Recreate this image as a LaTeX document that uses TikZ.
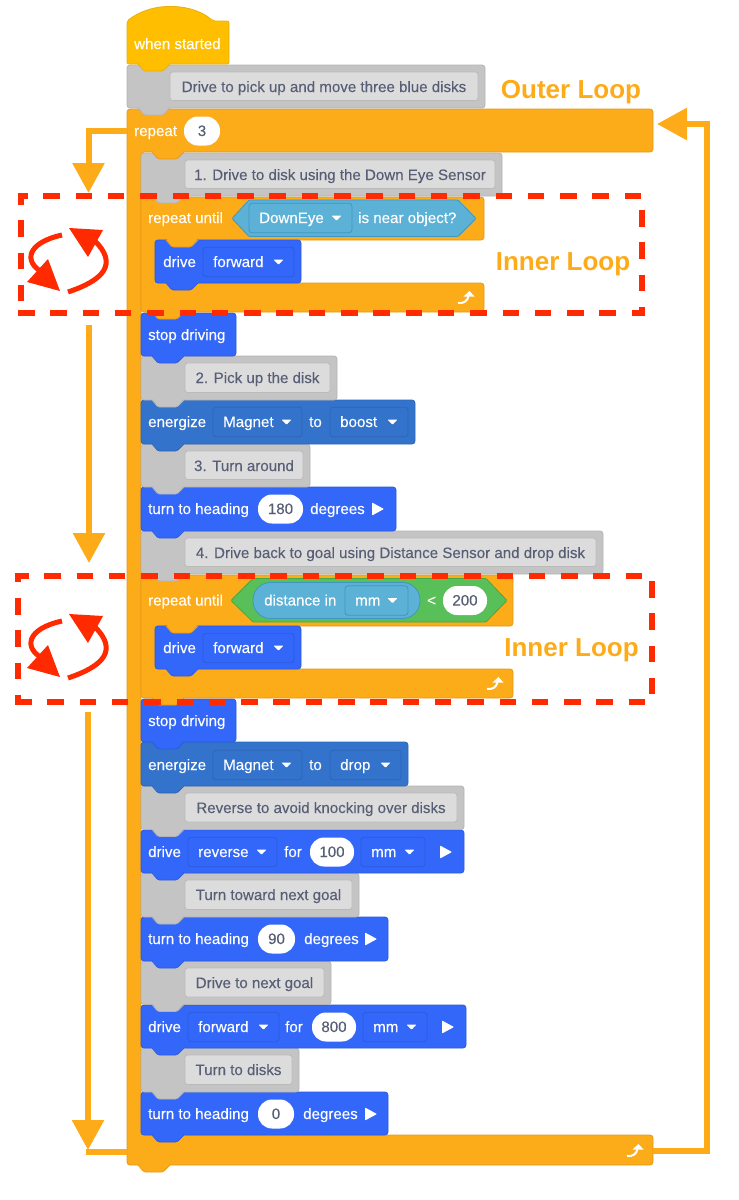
\documentclass[tikz,border=0pt]{standalone}
\usepackage{fontspec}
\setmainfont{Liberation Sans}
\newfontfamily\blockfont[FakeBold=0.12]{Liberation Sans}
\usetikzlibrary{arrows.meta,calc}
\definecolor{org}{HTML}{FCAB19}
\definecolor{orgb}{HTML}{E8991A}
\definecolor{gry}{HTML}{C4C4C4}
\definecolor{gryb}{HTML}{B4B4B4}
\definecolor{cbox}{HTML}{DCDCDC}
\definecolor{cboxb}{HTML}{BABABA}
\definecolor{blu}{HTML}{3367FA}
\definecolor{blub}{HTML}{2C5BDD}
\definecolor{dbl}{HTML}{3373CC}
\definecolor{dblb}{HTML}{2D66B8}
\definecolor{sky}{HTML}{5CB1D6}
\definecolor{skyb}{HTML}{3F97BF}
\definecolor{grn}{HTML}{59C059}
\definecolor{grnb}{HTML}{46A846}
\definecolor{yel}{HTML}{FFBF00}
\definecolor{yelb}{HTML}{EBAE0A}
\definecolor{txg}{HTML}{575E75}
\definecolor{redd}{HTML}{FF2A00}
\definecolor{loopo}{HTML}{FDAB19}
\newcommand\bfs{\blockfont\fontsize{15.1}{17}\selectfont}
\tikzset{
  x=1pt,y=-1pt,
  blockbox/.style={rectangle,rounded corners=3pt,line width=.8pt,inner sep=0pt,outer sep=0pt,anchor=north west},
  wlabel/.style={text=white,font=\bfs,inner sep=0pt,anchor=base west},
  glabel/.style={text=txg,font=\bfs,inner sep=0pt,anchor=base},
  bigloop/.style={text=loopo,font=\fontsize{26}{28}\selectfont\bfseries,inner sep=0pt},
  looparrow/.style={draw=loopo,line width=6pt,-{Triangle[length=30pt,width=31pt,fill=loopo]}},
  loopline/.style={draw=loopo,line width=6pt},
  reddash/.style={draw=redd,line width=6pt,dash pattern=on 16.5pt off 15.8pt},
  redarc/.style={draw=redd,line width=5pt},
  anchorbox/.style={inner sep=0pt,outer sep=0pt,anchor=north west},
}
\newcount\nodeno
\newcommand\nextnode{\global\advance\nodeno by 1 }
\newcommand\btab[4]{% x y fill border
  \fill[#3,rounded corners=1.5pt] (#1+11,#2-1) -- (#1+17,#2+7) -- (#1+36,#2+7) -- (#1+43,#2-1) -- cycle;
  \draw[#4,line width=.8pt,rounded corners=1.5pt] (#1+11,#2) -- (#1+17,#2+7) -- (#1+36,#2+7) -- (#1+43,#2);
}
\newcommand\blk[7]{% name x1 y1 x2 y2 fill border
  \node[blockbox,fill=#6,draw=#7,minimum width={(#4-#2)*1pt},minimum height={(#5-#3)*1pt}] (#1) at (#2,#3) {};
  \btab{#2}{#5}{#6}{#7}%
}
\newcommand\cmtat[7]{% name blockleft boxleft y1 y2 x2 text
  \blk{#1}{#2}{#4}{#6}{#5}{gry}{gryb}%
  \node[blockbox,fill=cbox,draw=cboxb,minimum width={(#6-7-#3)*1pt},minimum height={(#5-#4-14.5)*1pt},rounded corners=2.5pt] (#1b) at (#3,#4+7) {};
  \node[glabel] (#1t) at ({(#3+#6-7)/2},#4+27) {#7};
}
\newcommand\cmt[5]{\cmtat{#1}{141}{185}{#2}{#3}{#4}{#5}}
\newcommand\wtx[3]{\nextnode\node[wlabel] (w\the\nodeno) at (#1,#2+5) {#3};}
\newcommand\dropdown[6]{% x1 x2 yc text fill border
  \nextnode
  \node[blockbox,fill=#5,draw=#6,minimum width={(#2-#1)*1pt},minimum height=29.5pt] (d\the\nodeno) at (#1,#3-14.75) {};
  \node[wlabel] (dt\the\nodeno) at (#1+10,#3+5) {#4};
  \fill[white,rounded corners=.8pt] (#2-20.5,#3-2.5) -- (#2-10.5,#3-2.5) -- (#2-15.5,#3+2.8) -- cycle;
}
\newcommand\pilltx[4]{% x1 x2 yc text
  \nextnode
  \node[rectangle,rounded corners=14pt,fill=white,inner sep=0pt,outer sep=0pt,minimum width={(#2-#1)*1pt},minimum height=29pt,anchor=north west] (p\the\nodeno) at (#1,#3-14.5) {};
  \node[glabel] (pt\the\nodeno) at ({(#1+#2)/2},#3+5) {#4};
}
\newcommand\playtri[2]{\fill[white,rounded corners=.7pt] (#1,#2-6.5) -- (#1+12,#2) -- (#1,#2+6.5) -- cycle;}
\newcommand\loopicon[2]{% right edge, yc
  \draw[white,line width=2pt] (#1-26,#2+5) .. controls (#1-20,#2+5.5) and (#1-16.5,#2+3) .. (#1-15.5,#2-2);
  \fill[white] (#1-20.5,#2-1.5) -- (#1-9.5,#2-1.5) -- (#1-14.5,#2-7) -- cycle;
}
\newcommand\redcycle[1]{%
  \begin{scope}[yshift=#1pt]
  \draw[redarc] (62,235) .. controls (26,243) and (24,262) .. (42,272);
  \fill[redd] (27,282) -- (48,259) -- (60,291) -- cycle;
  \draw[redarc] (68,292) .. controls (104,280) and (118,264) .. (95,241);
  \fill[redd] (69,228) -- (103,230) -- (88,257) -- cycle;
  \end{scope}
}
\begin{document}
\begin{tikzpicture}
\useasboundingbox (0,0) rectangle (739,1200);
\fill[white] (0,0) rectangle (739,1200);
% outer C
\draw[fill=org,draw=orgb,line width=.8pt,rounded corners=3pt] (127,109) -- (653,109) -- (653,152) -- (141,152) -- (141,1135) -- (653,1135) -- (653,1165) -- (127,1165) -- cycle;
\node[anchorbox,minimum width=526pt,minimum height=43pt] (rep3head) at (127,109) {};
\node[anchorbox,minimum width=526pt,minimum height=30pt] (rep3foot) at (127,1136) {};
\btab{127}{1165}{org}{orgb}
\loopicon{653}{1151}
\blk{t0}{141}{1092}{388}{1135}{blu}{blub}
\wtx{148}{1114}{turn to heading}\pilltx{258}{294}{1114}{0}\wtx{303}{1114}{degrees}\playtri{365}{1114}
\cmt{g8}{1048}{1092}{299}{Turn to disks}
\blk{d3}{141}{1005}{466}{1048}{blu}{blub}
\wtx{148}{1027}{drive}\dropdown{188}{279}{1027}{forward}{blu}{blub}\wtx{285}{1027}{for}\pilltx{312}{356}{1027}{800}\dropdown{363}{427}{1027}{mm}{blu}{blub}\playtri{442}{1027}
\cmt{g7}{961}{1004.5}{331}{Drive to next goal}
\blk{t90}{141}{917}{388}{961}{blu}{blub}
\wtx{148}{939}{turn to heading}\pilltx{258}{295}{939}{90}\wtx{304}{939}{degrees}\playtri{365}{939}
\cmt{g6}{873}{917}{359}{Turn toward next goal}
\blk{d2}{141}{830}{464}{873}{blu}{blub}
\wtx{148}{852}{drive}\dropdown{188}{277}{852}{reverse}{blu}{blub}\wtx{284}{852}{for}\pilltx{310}{354}{852}{100}\dropdown{361}{425}{852}{mm}{blu}{blub}\playtri{440}{852}
\cmt{g5}{786}{829.5}{464}{Reverse to avoid knocking over disks}
\blk{e2}{141}{742}{408}{786}{dbl}{dblb}
\wtx{148}{765}{energize}\dropdown{213}{302}{765}{Magnet}{dbl}{dblb}\wtx{309}{765}{to}\dropdown{330}{401}{765}{drop}{dbl}{dblb}
\blk{s2}{141}{699}{236}{742}{blu}{blub}
\wtx{148}{721}{stop driving}
% repeat until 2
\draw[fill=org,draw=orgb,line width=.8pt,rounded corners=3pt] (141,575) -- (513,575) -- (513,626) -- (155,626) -- (155,669) -- (513,669) -- (513,698) -- (141,698) -- cycle;
\btab{141}{698}{org}{orgb}
\loopicon{513}{684}
\blk{f2}{155}{626}{301}{669}{blu}{blub}
\wtx{163}{648}{drive}\dropdown{203}{294}{648}{forward}{blu}{blub}
\btab{155}{626}{org}{orgb}
\wtx{148}{600.5}{repeat until}
\draw[fill=grn,draw=grnb,line width=.8pt,rounded corners=1pt] (231,600.5) -- (253,578.5) -- (486,578.5) -- (507,600.5) -- (486,622) -- (253,622) -- cycle;
\node[blockbox,fill=sky,draw=skyb,minimum width=167pt,minimum height=36pt,rounded corners=17.5pt] (dist) at (253,582.5) {};
\wtx{264}{600.5}{distance in}
\dropdown{345}{408}{600.5}{mm}{sky}{skyb}
\wtx{427}{600.5}{<}
\pilltx{443}{487}{600.5}{200}
\cmt{g4}{531}{574}{603}{4. Drive back to goal using Distance Sensor and drop disk}
\blk{t180}{141}{487}{396}{531}{blu}{blub}
\wtx{148}{509}{turn to heading}\pilltx{258}{303}{509}{180}\wtx{310}{509}{degrees}\playtri{372}{509}
\cmt{g3}{444}{487}{310}{3. Turn around}
\blk{e1}{141}{400}{415}{444}{dbl}{dblb}
\wtx{148}{422}{energize}\dropdown{213}{302}{422}{Magnet}{dbl}{dblb}\wtx{309}{422}{to}\dropdown{330}{408}{422}{boost}{dbl}{dblb}
\cmt{g2}{356}{400}{337}{2. Pick up the disk}
\blk{s1}{141}{313}{236}{356}{blu}{blub}
\wtx{148}{335}{stop driving}
% repeat until 1
\draw[fill=org,draw=orgb,line width=.8pt,rounded corners=3pt] (141,197) -- (484,197) -- (484,240) -- (155,240) -- (155,283) -- (484,283) -- (484,312) -- (141,312) -- cycle;
\btab{141}{312}{org}{orgb}
\loopicon{484}{298}
\blk{f1}{155}{240}{301}{283}{blu}{blub}
\wtx{163}{262}{drive}\dropdown{203}{294}{262}{forward}{blu}{blub}
\btab{155}{240}{org}{orgb}
\wtx{148}{218}{repeat until}
\draw[fill=sky,draw=skyb,line width=.8pt,rounded corners=1pt] (232,218.5) -- (249,200) -- (458,200) -- (476,218.5) -- (458,236.5) -- (249,236.5) -- cycle;
\dropdown{249}{352}{218}{DownEye}{sky}{skyb}
\wtx{358}{218}{is near object?}
\cmt{g1}{153}{196}{502}{1. Drive to disk using the Down Eye Sensor}
\btab{141}{152}{org}{orgb}
\wtx{134}{131}{repeat}
\pilltx{184}{220}{131}{3}
\cmtat{g0}{127}{170}{65}{108}{485}{Drive to pick up and move three blue disks}
% hat
\draw[fill=yel,draw=yelb,line width=.8pt,rounded corners=2pt] (127,64) -- (127,21) .. controls (140,11) and (155,6.5) .. (170,6.5) .. controls (188,6.5) and (203,12) .. (213,21) -- (229,21) -- (229,64) -- cycle;
\btab{127}{64}{yel}{yelb}
\wtx{134}{44}{when started}
% inner loop frames
\node[anchorbox,minimum width=621pt,minimum height=116.5pt] (inner1) at (21,196) {};
\node[anchorbox,minimum width=634pt,minimum height=126pt] (inner2) at (18,575.7) {};
\draw[reddash,dash phase=7pt] ([xshift=-3pt]inner1.north west) -- ([xshift=3pt]inner1.north east);
\draw[reddash] ([xshift=-3pt]inner1.south west) -- ([xshift=3pt]inner1.south east);
\draw[reddash,dash phase=5pt] ([yshift=3pt]inner1.north west) -- ([yshift=-3pt]inner1.south west);
\draw[reddash,dash phase=18.3pt] (inner1.north east) -- ([yshift=-3pt]inner1.south east);
\draw[reddash,dash phase=3pt] ([xshift=-3pt]inner2.north west) -- ([xshift=3pt]inner2.north east);
\draw[reddash] ([xshift=-3pt]inner2.south west) -- ([xshift=3pt]inner2.south east);
\draw[reddash,dash phase=7pt] ([yshift=3pt]inner2.north west) -- ([yshift=-3pt]inner2.south west);
\draw[reddash,dash phase=27pt] (inner2.north east) -- ([yshift=-3pt]inner2.south east);
\redcycle{0}
\redcycle{-386}
% labels
\node[bigloop] (outerl) at (571,92) {Outer Loop};
\node[bigloop] (innerl1) at (563,264) {Inner Loop};
\node[bigloop] (innerl2) at (571.5,650) {Inner Loop};
% connectors
\coordinate (a1e) at (88.5,193);
\draw[looparrow] (rep3head.west) -| (a1e);
\coordinate (a2s) at (89,325);
\coordinate (a2e) at (89,563);
\draw[looparrow] (a2s) -- (a2e);
\coordinate (a3s) at (88,712);
\coordinate (a3e) at (88,1150);
\draw[looparrow] (a3s) -- (a3e);
\coordinate (a3c) at (85.5,1151.5);
\draw[loopline] (a3c) -- (rep3foot.west |- a3c);
\coordinate (a4c) at (707,124);
\coordinate (a4e) at (657,124);
\draw[looparrow] (rep3foot.east) -- (rep3foot.east -| a4c) -- (a4c) -- (a4e);
\end{tikzpicture}
\end{document}
